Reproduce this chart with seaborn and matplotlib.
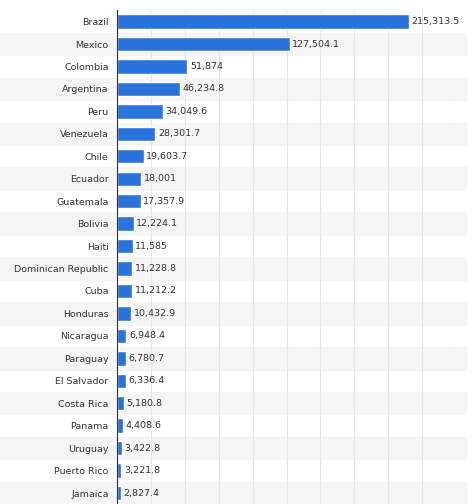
import matplotlib
matplotlib.use("Agg")
import matplotlib.pyplot as plt
import seaborn as sns
import pandas as pd

countries = ["Brazil", "Mexico", "Colombia", "Argentina", "Peru", "Venezuela", "Chile",
             "Ecuador", "Guatemala", "Bolivia", "Haiti", "Dominican Republic", "Cuba",
             "Honduras", "Nicaragua", "Paraguay", "El Salvador", "Costa Rica", "Panama",
             "Uruguay", "Puerto Rico", "Jamaica"]
values = [215313.5, 127504.1, 51874, 46234.8, 34049.6, 28301.7, 19603.7, 18001, 17357.9,
          12224.1, 11585, 11228.8, 11212.2, 10432.9, 6948.4, 6780.7, 6336.4, 5180.8,
          4408.6, 3422.8, 3221.8, 2827.4]
labels = ["215,313.5", "127,504.1", "51,874", "46,234.8", "34,049.6", "28,301.7", "19,603.7",
          "18,001", "17,357.9", "12,224.1", "11,585", "11,228.8", "11,212.2", "10,432.9",
          "6,948.4", "6,780.7", "6,336.4", "5,180.8", "4,408.6", "3,422.8", "3,221.8", "2,827.4"]

df = pd.DataFrame({"country": countries, "value": values})

sns.set_theme(style="white")
fig = plt.figure(figsize=(4.74, 5.04), dpi=100)
ax = fig.add_axes([0.247, -0.0005, 0.715, 0.98])

for i in range(len(countries)):
    if i % 2 == 1:
        ax.axhspan(i - 0.5, i + 0.5, xmin=-0.35, xmax=1.03, color="#f5f5f5", zorder=0, clip_on=False)

sns.barplot(data=df, x="value", y="country", color="#2a73dc", saturation=1, width=0.64, ax=ax, zorder=3)
for i, (v, t) in enumerate(zip(values, labels)):
    ax.text(v + 1800, i, t, va="center", ha="left", fontsize=6.8, color="#333333", zorder=4)

ax.set_xlim(0, 250000)
ax.set_ylim(len(countries) - 0.5, -0.5)
ax.set_xticks(range(25000, 250001, 25000))
ax.xaxis.grid(True, color="#e6e6e6", linewidth=0.8)
ax.set_axisbelow(True)
ax.tick_params(axis="x", labelbottom=False, length=0)
ax.tick_params(axis="y", labelsize=6.8, length=0, labelcolor="#333333", pad=6)
ax.set_xlabel("")
ax.set_ylabel("")
for s in ["top", "right", "bottom"]:
    ax.spines[s].set_visible(False)
ax.spines["left"].set_color("#333333")
ax.spines["left"].set_linewidth(0.8)
ax.spines["left"].set_zorder(10)
ax.patch.set_alpha(0)

fig.savefig("out.png", dpi=100)
